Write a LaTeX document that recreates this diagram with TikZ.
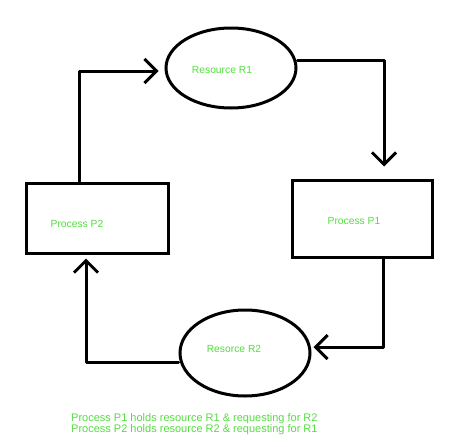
\documentclass[tikz,border=0pt]{standalone}
\usepackage{fontspec}
\setmainfont{Liberation Sans}
\usetikzlibrary{shapes.geometric,arrows.meta}
\definecolor{txtgreen}{RGB}{84,222,64}
\tikzset{
  every picture/.style={x=1pt,y=-1pt},
  shp/.style={draw=black,line width=3pt},
  res/.style={shp,ellipse,minimum width=130pt,minimum height=80pt,inner sep=0pt},
  proc/.style={shp,rectangle,inner sep=0pt},
  lbl/.style={text=txtgreen,font=\fontsize{10.3}{12}\selectfont,inner sep=0pt},
  arr/.style={line width=3pt,line join=round,line cap=round,
    -{Straight Barb[length=12pt,width=24pt,line width=3pt]}},
}
\begin{document}
\begin{tikzpicture}
\useasboundingbox (0,0) rectangle (474,447);
\fill[white] (0,0) rectangle (474,447);
% nodes
\node[res] (r1) at (231,68) {};
\node[res,minimum height=86pt] (r2) at (245,353) {};
\node[proc,minimum width=140pt,minimum height=77pt] (p1) at (362,218.5) {};
\node[proc,minimum width=142pt,minimum height=70pt] (p2) at (97,218) {};
% labels
\node[lbl] (t1) at (222,70) {Resource R1};
\node[lbl] (t2) at (234,349) {Resorce R2};
\node[lbl] (t3) at (354,221) {Process P1};
\node[lbl] (t4) at (77,224) {Process P2};
\node[text=txtgreen,font=\fontsize{11}{11}\selectfont,align=left,inner sep=0pt,anchor=west] (cap) at (71,424.5)
  {Process P1 holds resource R1 \& requesting for R2\\Process P2 holds resource R2 \& requesting for R1};
% corner points
\coordinate (a1) at (79,71);
\coordinate (a2) at (384,60);
\coordinate (a3) at (383,347);
\coordinate (a4) at (86,362);
% connectors
\draw[arr,shorten >=6pt] (p2.north -| a1) -- (a1) -- (r1.west |- a1);
\draw[arr,shorten >=12pt] (r1.east |- a2) -- (a2) -- (a2 |- p1.north);
\draw[arr,shorten >=2pt] (p1.south -| a3) -- (a3) -- (r2.east |- a3);
\draw[arr,shorten >=4pt] (r2.west |- a4) -- (a4) -- (a4 |- p2.south);
\end{tikzpicture}
\end{document}
